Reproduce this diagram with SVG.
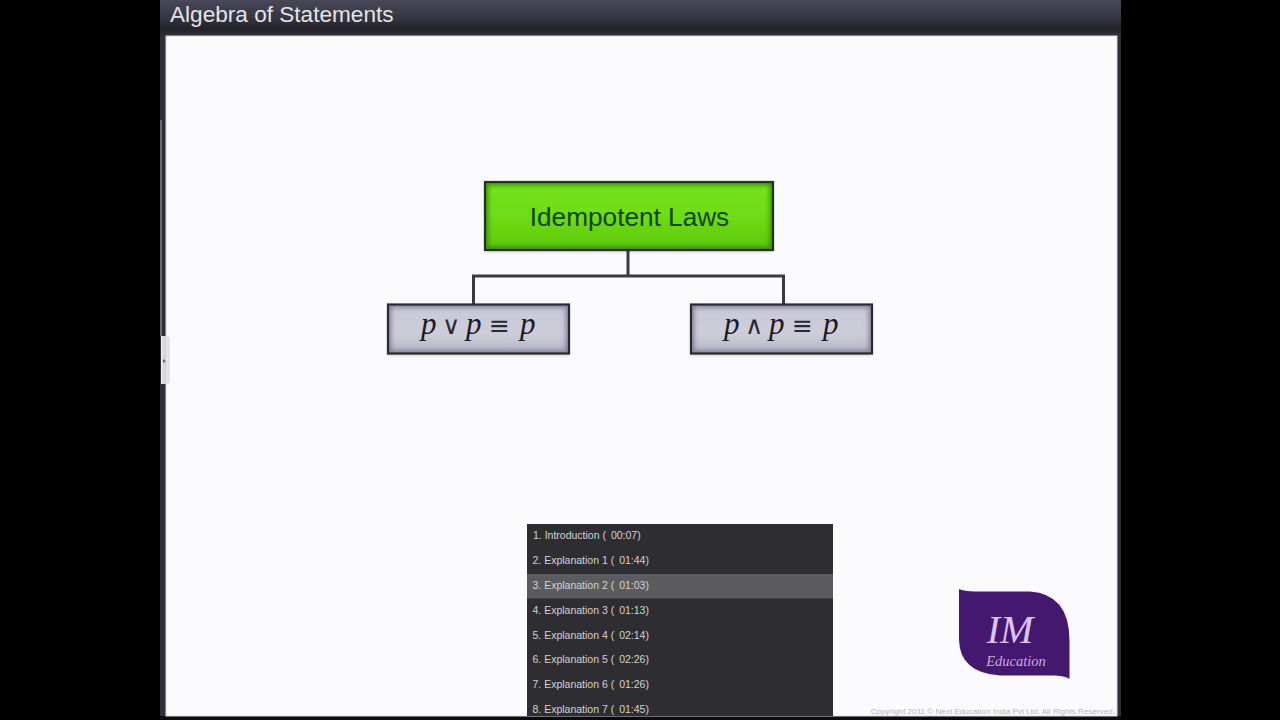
<svg xmlns="http://www.w3.org/2000/svg" width="1280" height="720" viewBox="0 0 1280 720">
<defs>
<linearGradient id="hdr" x1="0" y1="0" x2="0" y2="1"><stop offset="0" stop-color="#484858"/><stop offset="0.55" stop-color="#343442"/><stop offset="0.85" stop-color="#22222a"/><stop offset="1" stop-color="#2c2c34"/></linearGradient>
<linearGradient id="green" x1="0" y1="0" x2="0" y2="1"><stop offset="0" stop-color="#76e41c"/><stop offset="0.5" stop-color="#6edc14"/><stop offset="1" stop-color="#5cc80a"/></linearGradient>
<linearGradient id="grey" x1="0" y1="0" x2="0" y2="1"><stop offset="0" stop-color="#c8c8d8"/><stop offset="0.6" stop-color="#cdcdda"/><stop offset="1" stop-color="#b4b4c4"/></linearGradient>
<linearGradient id="tab" x1="0" y1="0" x2="1" y2="0"><stop offset="0" stop-color="#f0f0f0"/><stop offset="1" stop-color="#d8d8d8" stop-opacity="0.7"/></linearGradient>
<filter id="soft" x="-5%" y="-5%" width="110%" height="115%"><feDropShadow dx="0" dy="1.500" stdDeviation="1.500" flood-color="#000" flood-opacity="0.25"/></filter>
<filter id="blur" x="-10%" y="-10%" width="120%" height="120%"><feGaussianBlur stdDeviation="2.500"/></filter>
<clipPath id="c1"><rect x="485" y="182" width="288" height="68"/></clipPath>
<clipPath id="c2"><rect x="388" y="304.500" width="181" height="49"/></clipPath>
<clipPath id="c3"><rect x="691" y="304.500" width="181" height="49"/></clipPath>
</defs>
<style>
.sans{font-family:"Liberation Sans",Arial,sans-serif}
.menu{font-family:"Liberation Sans",Arial,sans-serif;font-size:10.500px;fill:#d2d2d2}
.mi{font-family:"Liberation Serif",serif;font-style:italic;font-size:31px;fill:#1a1a24}
.ms{font-family:"DejaVu Sans",sans-serif;font-size:25px;fill:#2a2a34}
.mo{font-family:"Liberation Serif",serif;font-size:27px;fill:#2a2a34}
.conn{fill:none;stroke:#3a3a42;stroke-width:3}
.edge{fill:none;stroke:#2a2a30;stroke-width:2.200}
.glow{fill:none;stroke-width:6;filter:url(#blur)}
</style>
<rect width="1280" height="720" fill="#000"/>
<g id="frame">
<rect x="160" y="0" width="961" height="716" fill="#2f2f39"/>
<rect x="160" y="0" width="961" height="34" fill="url(#hdr)"/>
<rect x="160" y="716" width="961" height="4" fill="#0c0c0e"/>
<rect x="160" y="120" width="2" height="216" fill="#6a6a78"/>
<rect x="166" y="36" width="951" height="680" fill="#fbfbfe" stroke="#d8d8de" stroke-width="1"/>
<text class="sans" x="170" y="22" font-size="22.600" fill="#e4e4e4">Algebra of Statements</text>
<path d="M161 336H168Q170 336 170 340V380Q170 384 168 384H161Z" fill="url(#tab)"/>
<path d="M163 359l3 2l-3 2z" fill="#666"/>
<text class="sans" x="1115" y="714" font-size="8.100" fill="#b4b4ba" text-anchor="end">Copyright 2011 © Next Education India Pvt Ltd. All Rights Reserved.</text>
</g>
<g id="connectors">
<path class="conn" d="M628 250V276M473.500 304V276H783.500V304"/>
</g>
<g id="node-title">
<rect x="485" y="182" width="288" height="68" fill="url(#green)" filter="url(#soft)"/>
<g clip-path="url(#c1)"><rect class="glow" x="485" y="182" width="288" height="68" stroke="#358a00"/></g>
<rect class="edge" x="485" y="182" width="288" height="68"/>
<text class="sans" x="629.500" y="226" font-size="26.200" fill="#124408" text-anchor="middle">Idempotent Laws</text>
</g>
<g id="node-or">
<rect x="388" y="304.500" width="181" height="49" fill="url(#grey)" filter="url(#soft)"/>
<g clip-path="url(#c2)"><rect class="glow" x="388" y="304.500" width="181" height="49" stroke="#7c7c94"/></g>
<rect class="edge" x="388" y="304.500" width="181" height="49"/>
<text x="421" y="334"><tspan class="mi">p</tspan><tspan class="ms" x="442">∨</tspan><tspan class="mi" x="466">p</tspan><tspan class="ms" x="489">≡</tspan><tspan class="mi" x="520">p</tspan></text>
</g>
<g id="node-and">
<rect x="691" y="304.500" width="181" height="49" fill="url(#grey)" filter="url(#soft)"/>
<g clip-path="url(#c3)"><rect class="glow" x="691" y="304.500" width="181" height="49" stroke="#7c7c94"/></g>
<rect class="edge" x="691" y="304.500" width="181" height="49"/>
<text x="724" y="334"><tspan class="mi">p</tspan><tspan class="ms" x="745">∧</tspan><tspan class="mi" x="769">p</tspan><tspan class="ms" x="792">≡</tspan><tspan class="mi" x="823">p</tspan></text>
</g>
<g id="menu">
<rect x="527" y="524" width="306" height="192" fill="#2e2e32"/>
<rect x="527" y="574" width="306" height="24.500" fill="#5c5c5e"/>
<text class="menu" x="533" y="539">1. Introduction ( <tspan dx="2">00:07)</tspan></text>
<text class="menu" x="532.500" y="564">2. Explanation 1 ( <tspan dx="2">01:44)</tspan></text>
<text class="menu" x="532.500" y="589">3. Explanation 2 ( <tspan dx="2">01:03)</tspan></text>
<text class="menu" x="532.500" y="613.500">4. Explanation 3 ( <tspan dx="2">01:13)</tspan></text>
<text class="menu" x="532.500" y="638.500">5. Explanation 4 ( <tspan dx="2">02:14)</tspan></text>
<text class="menu" x="532.500" y="663">6. Explanation 5 ( <tspan dx="2">02:26)</tspan></text>
<text class="menu" x="532.500" y="688">7. Explanation 6 ( <tspan dx="2">01:26)</tspan></text>
<text class="menu" x="532.500" y="713">8. Explanation 7 ( <tspan dx="2">01:45)</tspan></text>
</g>
<g id="logo">
<path d="M959 589Q964 591 975 591.500H1030Q1069 594 1069.500 640V679Q1066 676 1055 675.500H1000Q960 673 959 640Z" fill="#44186e"/>
<text x="1010" y="643" font-family="'Liberation Serif',serif" font-style="italic" font-size="40" fill="#dcc4f2" text-anchor="middle">IM</text>
<text x="1016" y="666" font-family="'Liberation Serif',serif" font-style="italic" font-size="14.500" fill="#c9a9e6" text-anchor="middle">Education</text>
</g>
</svg>
